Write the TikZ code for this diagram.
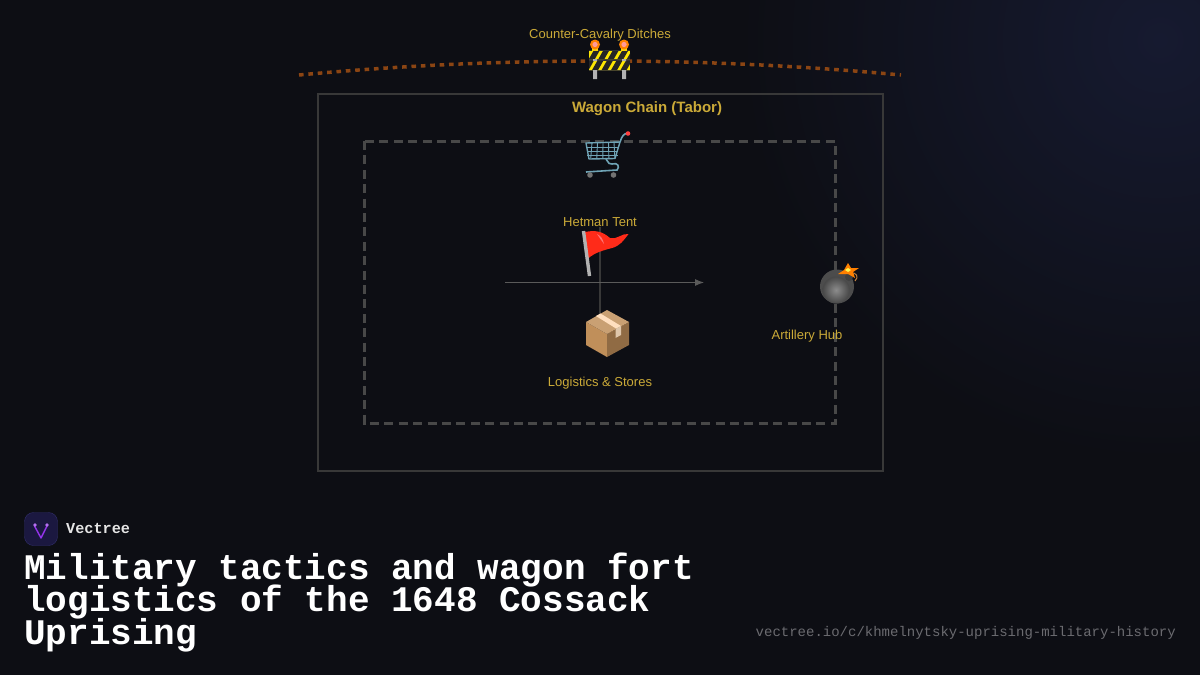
\documentclass[tikz,border=0pt]{standalone}
\usepackage{fontspec}
\setmainfont{Liberation Sans}
\newfontfamily\monofont{Liberation Mono}
\usetikzlibrary{arrows.meta,positioning}
\definecolor{fondo}{HTML}{0D0E14}
\definecolor{fondoazul}{HTML}{161A30}
\definecolor{oro}{HTML}{CBAA38}
\definecolor{borde}{HTML}{383838}
\definecolor{borderayas}{HTML}{484848}
\definecolor{zanja}{HTML}{8B4513}
\definecolor{flecha}{HTML}{5A5A5A}
\definecolor{carro}{HTML}{6FA3B5}
\definecolor{caja}{HTML}{C08F5A}
\definecolor{logoborde}{HTML}{312E6B}
\definecolor{logofondo}{HTML}{1B1840}
\definecolor{logovioleta}{HTML}{9333EA}
\definecolor{gristexto}{HTML}{6B6B70}
\newcommand{\titlefont}{\monofont\bfseries\fontsize{36}{32.4}\selectfont\lineskiplimit=-20pt\relax}
\tikzset{
  tag/.style={font=\fontsize{13}{15}\selectfont, text=oro, inner sep=0pt},
}
\begin{document}
\begin{tikzpicture}[x=1pt, y=-1pt]
    \useasboundingbox (0,0) rectangle (1200,675);
    % fondo
    \fill[fondo] (0,0) rectangle (1200,675);
    \begin{scope}
      \clip (0,0) rectangle (1200,675);
      \shade[inner color=fondoazul, outer color=fondo] (1160,40) circle[radius=420];
    \end{scope}
    % recintos
    \draw[borde, line width=2pt] (317.5,94) rectangle (882.5,471);
    \draw[borderayas, line width=3pt, dash pattern=on 9pt off 5.4pt] (364.5,141) rectangle (835.5,423.5);
    \draw[zanja, line width=3.5pt, dash pattern=on 4.6pt off 4.8pt] (299,75) .. controls (500,56.3) and (700,56.3) .. (901,75);
    % textos
    \node[tag] (ditches) at (600,35) {Counter-Cavalry Ditches};
    \node[tag, font=\fontsize{15}{17}\selectfont\bfseries] (chain) at (647,109) {Wagon Chain (Tabor)};
    \node[tag] (hetman) at (600,222) {Hetman Tent};
    \node[tag] (stores) at (600,383) {Logistics \& Stores};
    \node[tag] (artillery) at (807,336) {Artillery Hub};
    % ejes
    \coordinate (axisstart) at (505,282.5);
    \coordinate (axisend) at (704,282.5);
    \coordinate (boxtop) at (600,320);
    \draw[borde, line width=1.4pt] (hetman.south) -- (boxtop);
    \draw[flecha, line width=1pt, -{Latex[length=9pt,width=7pt]}] (axisstart) -- (axisend);
    % barrera
    \fill[black!80] (589,50) rectangle (630,71);
    \begin{scope}
      \clip (589,51) rectangle (630,59) (589,61) rectangle (630,70);
      \fill[yellow!90!orange] (589,50) rectangle (630,71);
      \foreach \i in {0,...,4} {
        \fill[black!85] (\i*9.5+582,71) -- (\i*9.5+588,71) -- (\i*9.5+600,50) -- (\i*9.5+594,50) -- cycle;
      }
    \end{scope}
    \fill[black!30] (593,59) rectangle (597,61) (622,59) rectangle (626,61);
    \fill[black!30] (593,70) rectangle (597,79) (622,70) rectangle (626,79);
    \foreach \x in {595,624} {
      \fill[yellow!70!orange] (\x-3,47) rectangle (\x+3,51);
      \fill[orange] (\x,44.5) circle[radius=5];
      \fill[red!40!white] (\x,44.5) circle[radius=2.6];
    }
    % carro
    \draw[carro, line width=1.4pt, line join=round] (586,143) -- (620,142) -- (615,158.5) -- (589,159) -- cycle;
    \foreach \x in {592,597.5,603,608.5,614} {
      \draw[carro, line width=.9pt] (\x,142.5) -- (\x-.5+.1*\x-60,158.5);
    }
    \foreach \y in {147,151,155} {
      \draw[carro, line width=.9pt] (587,\y) -- (618,\y);
    }
    \draw[carro, line width=1.6pt] (620,142) .. controls (622,136) and (624,133) .. (628,133.5);
    \draw[carro, line width=1.6pt] (606,159) .. controls (609,163) and (609,165) .. (612,164) .. controls (618,162) and (620,167) .. (617,170) -- (586,172);
    \fill[red!75!white] (628,133.5) circle[radius=2.3];
    \fill[black!55] (590,175) circle[radius=2.8] (613.5,175) circle[radius=2.8];
    % bandera
    \fill[red!85!orange!90!white] (585,232) .. controls (595,230) and (602,231) .. (610,238) .. controls (617,240) and (622,233) .. (628.5,234) .. controls (624,240) and (620,246) .. (612,248) .. controls (605,250) and (595,252) .. (587.5,259) -- cycle;
    \fill[red!55!white] (597,234) .. controls (601,236) and (603,239) .. (604,244) .. controls (601,240) and (599,237) .. (597,234) -- cycle;
    \draw[black!30, line width=3.4pt] (583.5,231) -- (589.5,276);
    % caja
    \fill[caja] (586,322) -- (607,334) -- (607,357) -- (586,345) -- cycle;
    \fill[caja!75!black] (629,322) -- (607,334) -- (607,357) -- (629,345) -- cycle;
    \fill[caja!85!white] (607,310) -- (629,322) -- (607,334) -- (586,322) -- cycle;
    \fill[orange!25!white] (596,316) -- (616,328.5) -- (621,326) -- (600.5,313.5) -- cycle;
    \fill[caja!50!white] (615.5,329) -- (621,326) -- (621,335) -- (615.5,338) -- cycle;
    % bomba
    \fill[black!70] (837,286.5) circle[radius=17];
    \shade[inner color=black!45, outer color=black!72] (836,290) circle[radius=13.5];
    \fill[black!75] (849,277) circle[radius=4];
    \draw[orange!50!gray, line width=1pt] (850,273) .. controls (857,272) and (859,277) .. (855,281);
    \fill[orange] (848,263) -- (851,268) -- (859,268) -- (853,272) -- (855,278) -- (848,274) -- (838,274) -- (844,270) -- cycle;
    \fill[yellow!70!white] (848,268) -- (851,270) -- (848,272) -- (845,270) -- cycle;
    % marca
    \node[draw=logoborde, fill=logofondo, rounded corners=9pt, minimum size=33pt, inner sep=0pt] (logo) at (41,529) {};
    \draw[logovioleta, line width=1.4pt, line join=round] (34.5,526) -- (41,538) -- (47,526);
    \fill[logovioleta!70!white] (35,525) circle[radius=1.8] (47,525) circle[radius=1.8];
    \node[anchor=west, inner sep=0pt, text=white!90!black, font=\monofont\bfseries\fontsize{15.2}{17}\selectfont] (brand) at (66,528.5) {Vectree};
    \node[anchor=north west, inner sep=0pt, align=left, text=white, font=\titlefont] (title) at (24,552.5) {Military tactics and wagon fort\\logistics of the 1648 Cossack\\Uprising};
    \node[anchor=east, inner sep=0pt, text=gristexto, font=\monofont\fontsize{14}{16}\selectfont] (url) at (1176,633) {vectree.io/c/khmelnytsky-uprising-military-history};
\end{tikzpicture}
\end{document}
